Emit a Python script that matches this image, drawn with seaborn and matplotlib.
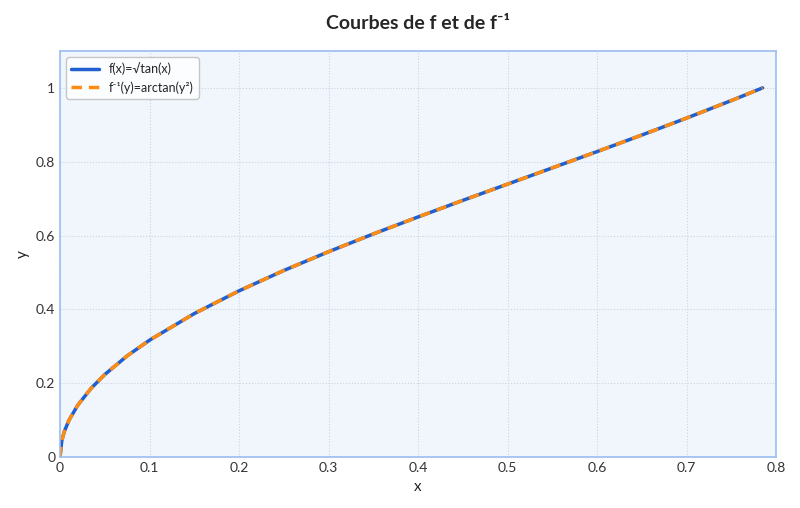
import matplotlib.pyplot as plt
import seaborn as sns
import pandas as pd

# values
x_vals = [0, 0.002, 0.005, 0.01, 0.02, 0.035, 0.05, 0.075, 0.1, 0.15, 0.2, 0.25,
          0.3, 0.35, 0.4, 0.45, 0.5, 0.55, 0.6, 0.65, 0.7, 0.75, 0.785]
y_vals = [0, 0.0447, 0.0707, 0.1, 0.1414, 0.1871, 0.2237, 0.2742, 0.3167,
          0.3887, 0.4502, 0.5053, 0.5561, 0.6042, 0.6502, 0.6951, 0.7391,
          0.7830, 0.8271, 0.8719, 0.9178, 0.9652, 0.9996]

df = pd.DataFrame({"x": x_vals, "y": y_vals})

sns.set_style("white")
plt.rcParams["font.family"] = ["Lato", "DejaVu Sans"]

fig, ax = plt.subplots(figsize=(8, 5.08), dpi=100)
ax.set_facecolor("#f0f6fc")
sns.lineplot(data=df, x="x", y="y", ax=ax, color="#1f5fd0", linewidth=2.5,
             label="f(x)=√tan(x)", sort=False)
sns.lineplot(data=df, x="x", y="y", ax=ax, color="#ff8c10", linewidth=2.5,
             linestyle=(0, (3, 2)), label="f⁻¹(y)=arctan(y²)", sort=False)

ax.set_xlim(0, 0.8)
ax.set_ylim(0, 1.1)
ax.set_yticks([0, 0.2, 0.4, 0.6, 0.8, 1])
ax.set_yticklabels(["0", "0.2", "0.4", "0.6", "0.8", "1"])
ax.set_xticks([0, 0.1, 0.2, 0.3, 0.4, 0.5, 0.6, 0.7, 0.8])
ax.set_xticklabels(["0", "0.1", "0.2", "0.3", "0.4", "0.5", "0.6", "0.7", "0.8"])
ax.grid(True, linestyle=":", color="#c8d4e4", linewidth=0.8)
for s in ax.spines.values():
    s.set_color("#9cbcf0")
    s.set_linewidth(1.2)
ax.tick_params(labelsize=10, colors="#333333", length=0)
ax.set_xlabel("x", fontsize=11)
ax.set_ylabel("y", fontsize=11)
ax.legend(loc="upper left", fontsize=9, frameon=True, edgecolor="#bbbbbb",
          handlelength=2.2)
ax.set_title("Courbes de f et de f⁻¹", fontsize=14, fontweight="bold", pad=16)

fig.subplots_adjust(left=0.075, right=0.97, bottom=0.1, top=0.9)
fig.savefig("out.png")
